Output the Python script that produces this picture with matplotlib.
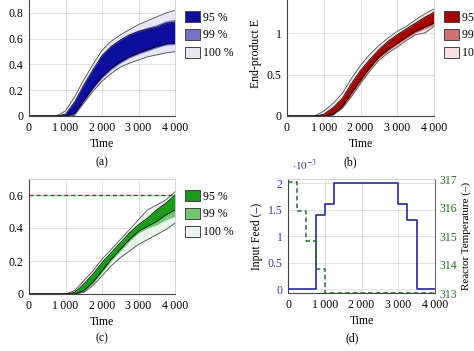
import numpy as np
import matplotlib
matplotlib.use("Agg")
import matplotlib.pyplot as plt
from matplotlib.patches import Patch
from matplotlib.ticker import FuncFormatter

plt.rcParams['font.family'] = ['Liberation Serif', 'DejaVu Serif']
plt.rcParams['mathtext.fontset'] = 'stix'
plt.rcParams['font.size'] = 8.5

# time grid shared by the three envelope plots
time = [0, 500, 750, 1000, 1250, 1500, 1750, 2000, 2250, 2500, 2750, 3000, 3250, 3500, 3750, 4000]

# panel (a)
a_100_hi = [0, 0, 0, 0.04, 0.15, 0.28, 0.40, 0.51, 0.58, 0.63, 0.67, 0.71, 0.74, 0.77, 0.80, 0.82]
a_99_hi = [0, 0, 0, 0.02, 0.12, 0.25, 0.37, 0.48, 0.55, 0.60, 0.64, 0.67, 0.69, 0.71, 0.74, 0.75]
a_95_hi = [0, 0, 0, 0.015, 0.11, 0.24, 0.36, 0.47, 0.54, 0.59, 0.63, 0.655, 0.675, 0.69, 0.72, 0.73]
a_95_lo = [0, 0, 0, 0, 0.02, 0.12, 0.22, 0.305, 0.37, 0.42, 0.46, 0.49, 0.515, 0.54, 0.56, 0.565]
a_99_lo = [0, 0, 0, 0, 0.015, 0.11, 0.21, 0.295, 0.36, 0.41, 0.45, 0.48, 0.505, 0.53, 0.55, 0.555]
a_100_lo = [0, 0, 0, 0, 0.005, 0.10, 0.19, 0.27, 0.33, 0.38, 0.41, 0.435, 0.46, 0.475, 0.49, 0.50]

# panel (b)
b_100_hi = [0, 0, 0, 0.06, 0.15, 0.27, 0.45, 0.61, 0.74, 0.85, 0.94, 1.02, 1.08, 1.16, 1.23, 1.29]
b_99_hi = [0, 0, 0, 0.035, 0.115, 0.225, 0.405, 0.565, 0.695, 0.815, 0.915, 0.995, 1.065, 1.135, 1.205, 1.265]
b_95_hi = [0, 0, 0, 0.02, 0.10, 0.21, 0.39, 0.55, 0.68, 0.80, 0.90, 0.98, 1.05, 1.12, 1.19, 1.25]
b_95_lo = [0, 0, 0, 0, 0.02, 0.11, 0.27, 0.43, 0.58, 0.71, 0.80, 0.875, 0.95, 1.02, 1.07, 1.12]
b_99_lo = [0, 0, 0, 0, 0.015, 0.10, 0.255, 0.415, 0.565, 0.695, 0.785, 0.86, 0.935, 1.005, 1.05, 1.10]
b_100_lo = [0, 0, 0, 0, 0.01, 0.09, 0.23, 0.39, 0.54, 0.67, 0.76, 0.83, 0.91, 0.98, 1.00, 1.08]

# panel (c)
c_100_hi = [0, 0, 0, 0, 0.02, 0.08, 0.14, 0.21, 0.27, 0.33, 0.39, 0.45, 0.51, 0.54, 0.57, 0.62]
c_99_hi = [0, 0, 0, 0, 0.015, 0.07, 0.13, 0.20, 0.26, 0.32, 0.38, 0.43, 0.47, 0.52, 0.56, 0.61]
c_95_hi = [0, 0, 0, 0, 0.01, 0.06, 0.12, 0.19, 0.25, 0.31, 0.37, 0.42, 0.46, 0.51, 0.55, 0.60]
c_95_lo = [0, 0, 0, 0, 0, 0.02, 0.07, 0.14, 0.21, 0.27, 0.33, 0.38, 0.41, 0.44, 0.48, 0.51]
c_99_lo = [0, 0, 0, 0, 0, 0.015, 0.065, 0.13, 0.20, 0.26, 0.32, 0.37, 0.40, 0.42, 0.45, 0.47]
c_100_lo = [0, 0, 0, 0, 0, 0.01, 0.05, 0.11, 0.17, 0.22, 0.26, 0.30, 0.33, 0.36, 0.39, 0.43]
c_limit = 0.6

# panel (d)
feed_t = [0, 750, 1000, 1250, 3000, 3250, 3500, 4000]
feed_e3 = [0, 1.4, 1.6, 2.0, 1.6, 1.3, 0, 0]
temp_t = [0, 250, 500, 750, 1000, 4000]
temp = [316.9, 315.9, 314.85, 313.85, 313.0, 313.0]

levels = ['95 %', '99 %', '100 %']
blues = ['#0d0d9e', '#7373c6', '#e6e6f5']
reds = ['#a30000', '#cc7272', '#f6e2e2']
greens = ['#1c9a1c', '#74c474', '#e8f5e8']

W, H = 474, 351
fig = plt.figure(figsize=(W / 100, H / 100), dpi=100)


def px_axes(l, t, r, b):
    return fig.add_axes([l / W, 1 - b / H, (r - l) / W, (b - t) / H])


def thousands(v, pos):
    v = int(round(v))
    if v >= 1000:
        return '%d\u2009%03d' % (v // 1000, v % 1000)
    return '%d' % v


def style(ax):
    ax.set_xlim(0, 4000)
    ax.set_xticks([0, 1000, 2000, 3000, 4000])
    ax.xaxis.set_major_formatter(FuncFormatter(thousands))
    ax.yaxis.set_major_formatter(FuncFormatter(lambda v, p: '%g' % round(v, 3)))
    ax.grid(True, color='#dddddd', lw=0.6)
    ax.set_axisbelow(True)
    ax.tick_params(length=0, pad=4)
    for s in ['top', 'right']:
        ax.spines[s].set_color('#cccccc')
        ax.spines[s].set_linewidth(0.6)
    for s in ['left', 'bottom']:
        ax.spines[s].set_color('#444444')
        ax.spines[s].set_linewidth(0.8)
    ax.set_xlabel('Time', labelpad=3)


def bands(ax, hi100, hi99, hi95, lo95, lo99, lo100, cols):
    ax.fill_between(time, lo100, hi100, color=cols[2], lw=0)
    ax.plot(time, hi100, color='#4a4a4a', lw=0.6)
    ax.plot(time, lo100, color='#4a4a4a', lw=0.6)
    ax.fill_between(time, lo99, hi99, color=cols[1], lw=0)
    ax.fill_between(time, lo95, hi95, color=cols[0], lw=0)
    ax.plot(time, hi95, color='black', lw=0.5)
    ax.plot(time, lo95, color='black', lw=0.5)


def legend(cols, x, y):
    handles = [Patch(facecolor=c, edgecolor='#444444', lw=0.7) for c in cols]
    fig.legend(handles, levels, loc='upper left', bbox_to_anchor=(x / W, 1 - y / H),
               frameon=False, borderpad=0, handlelength=1.25, handleheight=1.05,
               handletextpad=0.3, labelspacing=0.45, borderaxespad=0)


# (a)
ax_a = px_axes(29, -12.75, 175, 116)
bands(ax_a, a_100_hi, a_99_hi, a_95_hi, a_95_lo, a_99_lo, a_100_lo, blues)
style(ax_a)
ax_a.set_ylim(0, 1.0)
ax_a.set_yticks([0, 0.2, 0.4, 0.6, 0.8])
legend(blues, 185, 11)
fig.text(102 / W, 1 - 162 / H, '(a)', ha='center', va='center')

# (b)
ax_b = px_axes(287, -8.5, 434, 116)
bands(ax_b, b_100_hi, b_99_hi, b_95_hi, b_95_lo, b_99_lo, b_100_lo, reds)
style(ax_b)
ax_b.set_ylim(0, 1.5)
ax_b.set_yticks([0, 0.5, 1])
ax_b.set_ylabel('End-product E', labelpad=3)
legend(reds, 444, 11)
fig.text(350 / W, 1 - 162 / H, '(b)', ha='center', va='center')

# (c)
ax_c = px_axes(29, 178.5, 175, 294)
bands(ax_c, c_100_hi, c_99_hi, c_95_hi, c_95_lo, c_99_lo, c_100_lo, greens)
ax_c.axhline(c_limit, color='#c41414', lw=1.0, dashes=(3, 2))
style(ax_c)
ax_c.set_ylim(0, 0.7)
ax_c.set_yticks([0, 0.2, 0.4, 0.6])
legend(greens, 185, 190)
fig.text(102 / W, 1 - 338 / H, '(c)', ha='center', va='center')

# (d)
ax_d = px_axes(288, 179.3, 435, 293.3)
ax_d.plot(feed_t, feed_e3, drawstyle='steps-post', color='#2a2a9c', lw=1.2, zorder=3)
style(ax_d)
ax_d.set_ylim(-0.075, 2.075)
ax_d.set_yticks([0, 0.5, 1, 1.5, 2])
ax_d.tick_params(axis='y', colors='#3a3a9a')
ax_d.tick_params(axis='x', colors='black')
ax_d.set_ylabel('Input Feed (\u2013)', labelpad=3)
ax_d.spines['right'].set_color('#444444')
ax_t = ax_d.twinx()
ax_t.plot(temp_t, temp, drawstyle='steps-post', color='#2e6a2e', lw=1.1, dashes=(3, 2))
ax_t.set_ylim(313, 317)
ax_t.set_yticks([313, 314, 315, 316, 317])
ax_t.tick_params(axis='y', length=0, pad=3, colors='#2e6a2e')
for s in ax_t.spines.values():
    s.set_visible(False)
ax_t.set_ylabel('Reactor Temperature (\u2013)', labelpad=3, fontsize=8)
fig.text(292 / W, 1 - 165 / H, r'$\cdot 10^{-3}$', color='#3a3a9a', ha='left', va='center', fontsize=8)
fig.text(352 / W, 1 - 338 / H, '(d)', ha='center', va='center')

fig.savefig('out.png', dpi=100)
